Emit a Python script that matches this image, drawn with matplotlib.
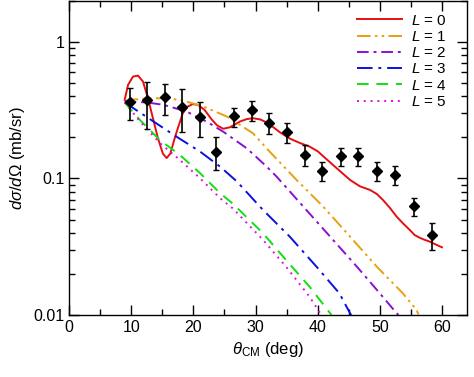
import matplotlib
matplotlib.use("Agg")
import matplotlib.pyplot as plt
from matplotlib.ticker import LogLocator, NullFormatter, MultipleLocator, FixedLocator, FixedFormatter

plt.rcParams['font.family'] = ['Liberation Sans', 'DejaVu Sans']
plt.rcParams['mathtext.fontset'] = 'custom'
plt.rcParams['mathtext.rm'] = 'Liberation Sans'
plt.rcParams['mathtext.it'] = 'Liberation Sans:italic'

# Experimental data
theta_exp = [9.8, 12.6, 15.4, 18.2, 21.1, 23.7, 26.6, 29.4, 32.2, 35.0, 38.0, 40.7, 43.7, 46.5, 49.5, 52.4, 55.5, 58.4]
xs_exp = [0.365, 0.376, 0.394, 0.336, 0.284, 0.157, 0.287, 0.318, 0.254, 0.218, 0.149, 0.1135, 0.146, 0.146, 0.1135, 0.106, 0.063, 0.0386]
err_lo = [0.27, 0.23, 0.29, 0.22, 0.20, 0.115, 0.24, 0.265, 0.21, 0.183, 0.123, 0.096, 0.124, 0.124, 0.096, 0.089, 0.053, 0.030]
err_hi = [0.46, 0.51, 0.49, 0.45, 0.36, 0.20, 0.33, 0.37, 0.30, 0.254, 0.176, 0.131, 0.166, 0.166, 0.131, 0.124, 0.072, 0.047]

# Calculated curves
L0_x = [8.95, 9.5, 10.3, 11.1, 11.9, 12.7, 13.5, 14.3, 15.1, 15.7, 16.3, 16.9, 17.5, 18.3, 19.1, 19.9, 20.7, 21.8, 22.9, 23.8, 24.8, 25.9, 27.5, 28.6, 29.6, 30.8, 32.0, 33.9, 35.5, 37.1, 38.7, 40.0, 42.0, 43.6, 45.2, 46.8, 48.4, 49.5, 50.5, 51.6, 52.7, 53.8, 54.8, 55.6, 56.4, 57.2, 58.0, 59.0, 60.0]
L0_y = [0.376, 0.485, 0.557, 0.566, 0.512, 0.387, 0.276, 0.197, 0.152, 0.141, 0.152, 0.19, 0.233, 0.30, 0.336, 0.35, 0.346, 0.318, 0.272, 0.245, 0.231, 0.237, 0.261, 0.272, 0.276, 0.27, 0.254, 0.218, 0.196, 0.182, 0.171, 0.158, 0.131, 0.113, 0.0975, 0.0875, 0.0824, 0.077, 0.0695, 0.061, 0.0525, 0.0465, 0.042, 0.0385, 0.0368, 0.0355, 0.0345, 0.0328, 0.0313]

L1_x = [8.95, 9.8, 12.5, 15.9, 18.5, 21.6, 25.4, 29.6, 32.0, 36.6, 40.9, 45.2, 49.5, 53.7, 55.9, 56.2]
L1_y = [0.37, 0.376, 0.385, 0.387, 0.37, 0.336, 0.284, 0.214, 0.162, 0.0975, 0.0621, 0.0375, 0.0226, 0.0144, 0.0109, 0.0101]

L2_x = [8.95, 9.8, 12.5, 15.2, 18.9, 22.1, 24.8, 28.6, 31.8, 33.4, 37.7, 42.0, 46.3, 50.0, 52.7, 53.0]
L2_y = [0.37, 0.365, 0.36, 0.346, 0.309, 0.261, 0.220, 0.166, 0.122, 0.103, 0.0621, 0.0375, 0.0226, 0.0144, 0.0103, 0.0100]

L3_x = [8.95, 13.6, 17.3, 21.1, 24.3, 27.0, 31.2, 35.5, 39.8, 43.5, 45.2, 45.4]
L3_y = [0.36, 0.261, 0.202, 0.157, 0.122, 0.095, 0.0588, 0.0375, 0.0226, 0.0144, 0.0103, 0.0100]

L4_x = [8.95, 11.4, 14.6, 17.8, 21.1, 24.3, 26.4, 31.2, 34.9, 38.7, 42.0, 42.2]
L4_y = [0.36, 0.268, 0.191, 0.149, 0.109, 0.078, 0.0650, 0.0397, 0.0253, 0.0161, 0.0103, 0.0100]

L5_x = [8.95, 11.4, 14.6, 17.8, 21.1, 24.3, 26.4, 31.2, 34.9, 38.7, 40.4, 40.6]
L5_y = [0.36, 0.262, 0.182, 0.137, 0.100, 0.0716, 0.060, 0.0355, 0.0226, 0.0136, 0.0103, 0.0100]

labels = [r'$L$ = 0', r'$L$ = 1', r'$L$ = 2', r'$L$ = 3', r'$L$ = 4', r'$L$ = 5']

fig = plt.figure(figsize=(4.74, 3.77), dpi=100)
ax = fig.add_axes([0.1456, 0.1645, 0.985 - 0.1456, 0.998 - 0.1645])

lw = 1.4
ax.plot(L0_x, L0_y, color='#e41010', lw=lw, ls='-', label=labels[0])
ax.plot(L1_x, L1_y, color='#e8a010', lw=lw, ls=(0, (7, 2.2, 1.3, 2.2, 1.3, 2.2)), label=labels[1])
ax.plot(L2_x, L2_y, color='#8a10d0', lw=lw, ls=(0, (6, 2.5, 1.5, 2.5)), label=labels[2])
ax.plot(L3_x, L3_y, color='#0a10e0', lw=lw, ls=(0, (8, 3, 1.5, 3)), label=labels[3])
ax.plot(L4_x, L4_y, color='#10e010', lw=lw, ls=(0, (6, 4)), label=labels[4])
ax.plot(L5_x, L5_y, color='#e010e0', lw=lw, ls=(0, (1, 2.5)), label=labels[5])

yerr = [[v - lo for v, lo in zip(xs_exp, err_lo)], [hi - v for v, hi in zip(xs_exp, err_hi)]]
ax.errorbar(theta_exp, xs_exp, yerr=yerr, fmt='D', color='black', ms=5.5, elinewidth=1.2, capsize=2, capthick=1, zorder=5)

ax.set_yscale('log')
ax.set_xlim(0, 64)
ax.set_ylim(0.01, 2.0)
ax.xaxis.set_major_locator(MultipleLocator(10))
ax.xaxis.set_minor_locator(MultipleLocator(5))
ax.yaxis.set_major_locator(FixedLocator([0.01, 0.1, 1]))
ax.yaxis.set_major_formatter(FixedFormatter(['0.01', '0.1', '1']))
ax.yaxis.set_minor_locator(LogLocator(base=10, subs=range(2, 10)))
ax.yaxis.set_minor_formatter(NullFormatter())
ax.tick_params(which='both', direction='in', top=True, right=True, labelsize=11.5, width=1)
ax.tick_params(which='major', length=7)
ax.tick_params(which='minor', length=4)
for s in ax.spines.values():
    s.set_linewidth(1)

ax.set_xlabel(r'$\theta_{\rm CM}$ (deg)', fontsize=12)
ax.set_ylabel(r'$d\sigma/d\Omega$ (mb/sr)', fontsize=12)

ax.legend(loc='upper right', bbox_to_anchor=(0.985, 1.003), frameon=False, fontsize=11,
          handlelength=2.95, handletextpad=0.6, labelspacing=0.15, borderaxespad=0.5)

fig.savefig('out.png', dpi=100)
